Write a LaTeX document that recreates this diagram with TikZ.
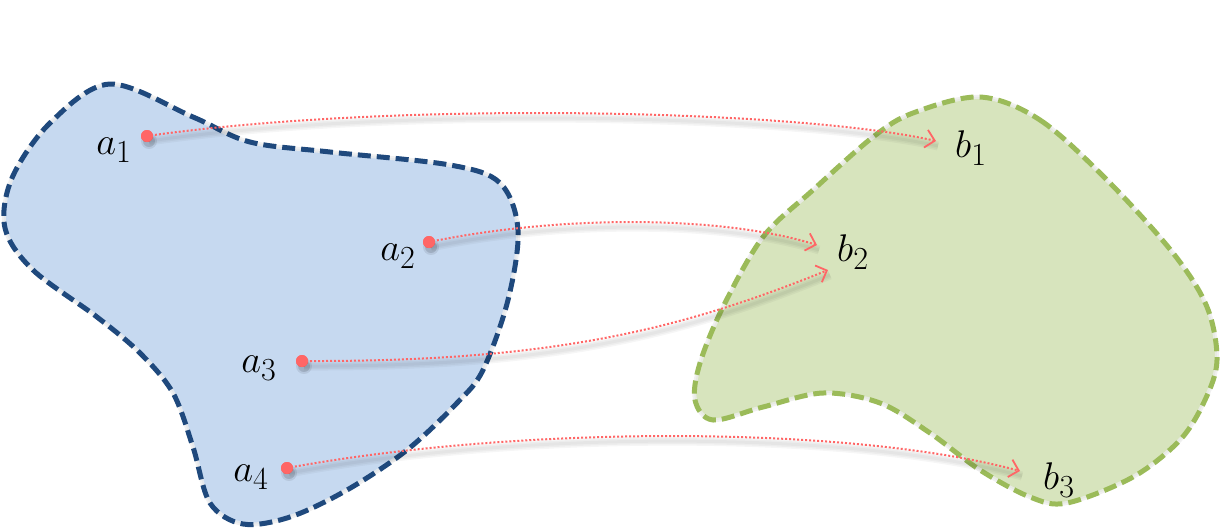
\documentclass[tikz,border=0pt]{standalone}
\usetikzlibrary{arrows.meta}
\definecolor{bluefill}{HTML}{C6D9F0}
\definecolor{blueline}{HTML}{1F497D}
\definecolor{greenfill}{HTML}{D7E4BD}
\definecolor{greenline}{HTML}{9BBB59}
\definecolor{linkred}{HTML}{FF6666}
\tikzset{
  region/.style={line width=5pt, dash pattern=on 13pt off 6pt, line join=round},
  gapline/.style={line width=4pt, white!85!gray, opacity=0.8},
  pointdot/.style={circle, fill=linkred, inner sep=0pt, minimum size=12pt},
  lbl/.style={font=\Huge, scale=1.55, inner sep=0pt},
  link/.style={linkred, line width=2pt, dash pattern=on 2pt off 2pt,
    -{Straight Barb[length=9pt,width=18pt,line width=1.8pt]}},
  linkshadow/.style={black, opacity=0.035, line width=#1},
}
\begin{document}
\begin{tikzpicture}[x=1pt,y=-1pt]
\useasboundingbox (0,0) rectangle (1221,531);
\def\bluepath{plot[smooth cycle, tension=0.55] coordinates {
 (110,84) (193,117) (250,142) (330,152) (450,165) (500,183) (518,230)
 (508,300) (483,370) (457,403) (407,450) (347,490) (290,517) (243,524)
 (210,503) (193,447) (173,393) (140,353) (97,317) (33,270) (5,228)
 (12,178) (50,123)}}
\def\greenpath{plot[smooth cycle, tension=0.55] coordinates {
 (980,97) (1040,120) (1107,180) (1173,253) (1207,307) (1217,360)
 (1205,400) (1180,440) (1133,477) (1067,503) (1030,497) (980,470)
 (930,433) (880,403) (823,393) (763,407) (713,420) (695,400) (700,363)
 (723,307) (763,237) (813,190) (873,137) (913,113)}}
\fill[bluefill] \bluepath;
\draw[gapline] \bluepath;
\draw[region, blueline] \bluepath;
\fill[greenfill] \greenpath;
\draw[gapline] \greenpath;
\draw[region, greenline] \greenpath;

% points
\node[pointdot] (d1) at (147,136) {};
\node[pointdot] (d2) at (429,242) {};
\node[pointdot] (d3) at (302,361) {};
\node[pointdot] (d4) at (287,468) {};
\coordinate (t1) at (936,141);
\coordinate (t2) at (817,245);
\coordinate (t3) at (828,270);
\coordinate (t4) at (1020,471);

% soft shadows
\begin{scope}[transform canvas={shift={(2pt,-5pt)}}]
\foreach \w in {3pt,6pt,9pt}{
\draw[linkshadow=\w] (d1.center) .. controls (400,100) and (800,110) .. (t1);
\draw[linkshadow=\w] (d2.center) .. controls (560,215) and (720,215) .. (t2);
\draw[linkshadow=\w] (d3.center) .. controls (550,362) and (680,330) .. (t3);
\draw[linkshadow=\w] (d4.center) .. controls (520,425) and (850,425) .. (t4);
}
\foreach \d in {d1,d2,d3,d4}{
  \fill[black,opacity=0.08] (\d.center) circle (8pt);
  \fill[black,opacity=0.12] (\d.center) circle (6pt);}
\end{scope}

% links
\draw[link] (d1.center) .. controls (400,100) and (800,110) .. (t1);
\draw[link] (d2.center) .. controls (560,215) and (720,215) .. (t2);
\draw[link] (d3.center) .. controls (550,362) and (680,330) .. (t3);
\draw[link] (d4.center) .. controls (520,425) and (850,425) .. (t4);
\foreach \d in {d1,d2,d3,d4}{\fill[linkred] (\d.center) circle (6pt);}

% labels
\node[lbl] (la1) at (114,150) {$a_1$};
\node[lbl] (la2) at (398,256) {$a_2$};
\node[lbl] (la3) at (259,368) {$a_3$};
\node[lbl] (la4) at (251,477) {$a_4$};
\node[lbl] (lb1) at (971,148) {$b_1$};
\node[lbl] (lb2) at (853,252) {$b_2$};
\node[lbl] (lb3) at (1059,480) {$b_3$};
\end{tikzpicture}
\end{document}
